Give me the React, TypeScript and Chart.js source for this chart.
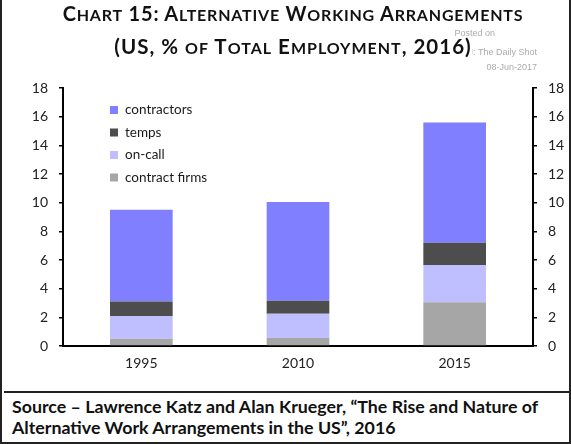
import React, { useEffect, useRef } from "react";
import { Chart, registerables } from "chart.js";

Chart.register(...registerables);

const categories = ["1995", "2010", "2015"];
const contractFirms = [0.5, 0.55, 3.05];
const onCall = [1.6, 1.7, 2.6];
const temps = [1.0, 0.9, 1.55];
const contractors = [6.4, 6.9, 8.4];
const seriesLabels = ["contract firms", "on-call", "temps", "contractors"];
const seriesColors = ["#a6a6a6", "#bfbfff", "#4d4d4d", "#7f7fff"];
const yMin = 0;
const yMax = 18;
const yStep = 2;

const FONT = "Lato, 'Open Sans', sans-serif";

const legendPlugin = {
  id: "insideLegend",
  afterDatasetsDraw(chart: any) {
    const { ctx, chartArea } = chart;
    const ds = [...chart.data.datasets].reverse();
    ctx.save();
    ctx.font = `13.5px ${FONT}`;
    ctx.textBaseline = "middle";
    ctx.textAlign = "left";
    ds.forEach((d: any, i: number) => {
      const y = chartArea.top + 22 + i * 22.5;
      const x = chartArea.left + 47;
      ctx.fillStyle = d.backgroundColor;
      ctx.fillRect(x, y - 4, 8, 8);
      ctx.fillStyle = "#1a1a1a";
      ctx.fillText(d.label, x + 15, y);
    });
    ctx.restore();
  },
};

function ChartCanvas() {
  const ref = useRef<HTMLCanvasElement | null>(null);
  useEffect(() => {
    document.body.style.margin = "0";
    const canvas = ref.current;
    if (!canvas) return;
    const values = [contractFirms, onCall, temps, contractors];
    const tickFont = { family: FONT, size: 14 };
    const chart = new Chart(canvas, {
      type: "bar",
      data: {
        labels: categories,
        datasets: values.map((v, i) => ({
          label: seriesLabels[i],
          data: v,
          backgroundColor: seriesColors[i],
          borderWidth: 0,
          categoryPercentage: 1,
          barPercentage: 0.4,
          yAxisID: "y",
        })),
      },
      options: {
        responsive: false,
        animation: false,
        devicePixelRatio: 1,
        layout: { padding: { top: 88, left: 0, right: 0, bottom: 0 } },
        plugins: { legend: { display: false }, tooltip: { enabled: false }, title: { display: false } },
        scales: {
          x: {
            stacked: true,
            grid: { display: true, drawOnChartArea: false, drawTicks: false },
            border: { display: true, color: "#000", width: 2 },
            ticks: { font: tickFont, color: "#222", padding: 9 },
            afterFit: (s: any) => {
              s.height = 44;
            },
          },
          y: {
            stacked: true,
            position: "left",
            min: yMin,
            max: yMax,
            ticks: { stepSize: yStep, font: tickFont, color: "#222", padding: 11 },
            grid: { display: true, drawOnChartArea: false, drawTicks: true, tickLength: 4, color: "#000", lineWidth: 1.5 },
            border: { display: true, color: "#000", width: 2 },
            afterFit: (s: any) => {
              s.width = 63;
            },
          },
          y2: {
            position: "right",
            min: yMin,
            max: yMax,
            ticks: { stepSize: yStep, font: tickFont, color: "#222", padding: 11 },
            grid: { display: true, drawOnChartArea: false, drawTicks: true, tickLength: 4, color: "#000", lineWidth: 1.5 },
            border: { display: true, color: "#000", width: 2 },
            afterFit: (s: any) => {
              s.width = 38;
            },
          },
        },
      },
      plugins: [legendPlugin],
    });
    return () => chart.destroy();
  }, []);
  return (
    <canvas
      ref={ref}
      width={571}
      height={390}
      style={{ position: "absolute", left: 0, top: 0, width: 571, height: 390 }}
    />
  );
}

// Renders text in small caps: lowercase runs are uppercased at a smaller size.
function SmallCaps({ text, big, small }: { text: string; big: number; small: number }) {
  const parts: { s: string; lower: boolean }[] = [];
  for (const ch of text) {
    const lower = ch !== ch.toUpperCase();
    const last = parts[parts.length - 1];
    if (last && last.lower === lower) last.s += ch;
    else parts.push({ s: ch, lower });
  }
  return (
    <>
      {parts.map((p, i) =>
        p.lower ? (
          <span key={i} style={{ fontSize: small, textTransform: "uppercase" }}>
            {p.s}
          </span>
        ) : (
          <span key={i} style={{ fontSize: big }}>
            {p.s}
          </span>
        )
      )}
    </>
  );
}

export default function App() {
  const wm: React.CSSProperties = {
    position: "absolute",
    fontFamily: "'Liberation Sans', Arial, sans-serif",
    fontSize: 9,
    lineHeight: "10px",
    color: "#ababab",
    whiteSpace: "nowrap",
    zIndex: 1,
  };
  return (
    <div style={{ position: "relative", width: 571, height: 444, background: "#fff", overflow: "hidden" }}>
      <ChartCanvas />
      <div style={{ ...wm, right: 76, top: 28 }}>Posted on</div>
      <div style={{ ...wm, right: 34, top: 47 }}>WSJ: The Daily Shot</div>
      <div style={{ ...wm, right: 34, top: 62 }}>08-Jun-2017</div>
      <div
        style={{
          position: "absolute",
          left: 0,
          top: 3,
          width: 586,
          textAlign: "center",
          fontFamily: FONT,
          fontWeight: 700,
          fontSize: 20,
          color: "#111",
          zIndex: 2,
          whiteSpace: "nowrap",
        }}
      >
        <div style={{ lineHeight: "20px", letterSpacing: "0.8px" }}>
          <SmallCaps text="Chart 15: Alternative Working Arrangements" big={20} small={16} />
        </div>
        <div style={{ marginTop: 12, lineHeight: "18px", letterSpacing: "1px" }}>
          <span style={{ background: "#fff", display: "inline-block" }}>
            <SmallCaps text="(US, % of Total Employment, 2016)" big={20.5} small={16} />
          </span>
        </div>
      </div>
      <div style={{ position: "absolute", left: 4, right: 0, top: 391, height: 2, background: "#222" }} />
      <div
        style={{
          position: "absolute",
          left: 12,
          top: 396,
          fontFamily: FONT,
          fontWeight: 700,
          fontSize: 17.8,
          lineHeight: "21px",
          color: "#111",
          whiteSpace: "nowrap",
        }}
      >
        <div>Source – Lawrence Katz and Alan Krueger, “The Rise and Nature of</div>
        <div>Alternative Work Arrangements in the US”, 2016</div>
      </div>
      <div
        style={{
          position: "absolute",
          left: 0,
          top: 0,
          width: 571,
          height: 444,
          boxSizing: "border-box",
          borderLeft: "2px solid #222",
          borderRight: "2px solid #222",
          borderBottom: "2px solid #222",
          pointerEvents: "none",
        }}
      />
    </div>
  );
}
